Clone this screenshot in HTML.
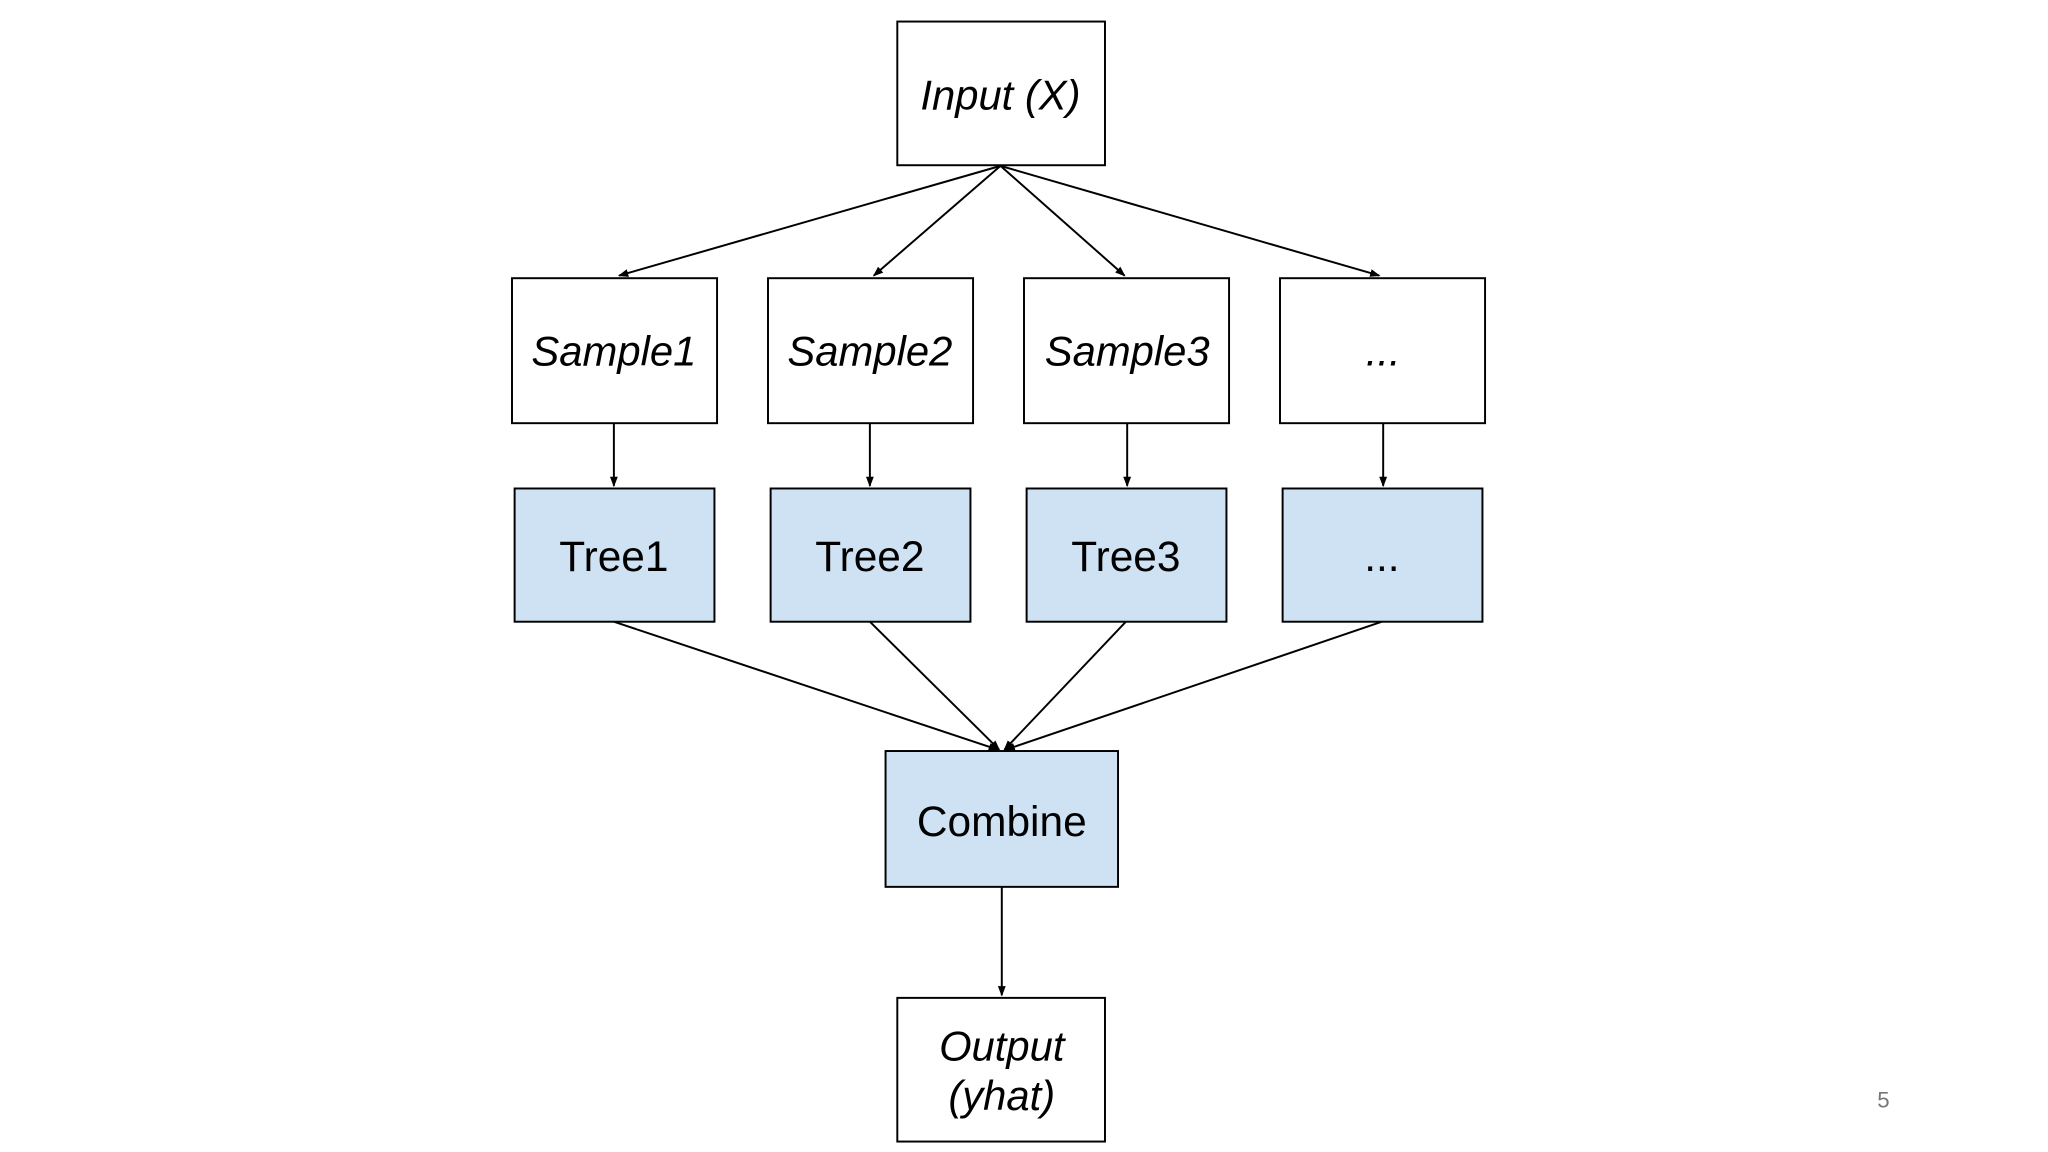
<!DOCTYPE html>
<html><head><meta charset="utf-8"><style>html,body{margin:0;padding:0;background:#fff}svg{display:block}</style></head>
<body>
<svg width="2048" height="1152" viewBox="0 0 1568 882" preserveAspectRatio="none" xmlns="http://www.w3.org/2000/svg" font-family="Liberation Sans, sans-serif">
<defs><marker id="a" markerWidth="8" markerHeight="8" refX="7" refY="4" orient="auto" markerUnits="userSpaceOnUse"><path d="M0,1 L8,4 L0,7 z" fill="#000"/></marker></defs>
<rect width="1568" height="882" fill="#fff"/>
<g stroke="#000" stroke-width="1.5" fill="none" marker-end="url(#a)">
<line x1="766" y1="127" x2="474" y2="211"/>
<line x1="766" y1="127" x2="669" y2="211"/>
<line x1="766" y1="127" x2="861" y2="211"/>
<line x1="766" y1="127" x2="1056" y2="211"/>
<line x1="470" y1="324" x2="470" y2="372"/>
<line x1="666" y1="324" x2="666" y2="372"/>
<line x1="863" y1="324" x2="863" y2="372"/>
<line x1="1059" y1="324" x2="1059" y2="372"/>
<line x1="470" y1="476" x2="764" y2="574"/>
<line x1="666" y1="476" x2="765" y2="574"/>
<line x1="862" y1="476" x2="769" y2="574"/>
<line x1="1058" y1="476" x2="770" y2="574"/>
<line x1="767" y1="679" x2="767" y2="762"/>
</g>
<g stroke="#000" stroke-width="1.5">
<rect x="687" y="16.5" width="159" height="110" fill="#fff"/>
<rect x="392" y="213" width="157" height="111" fill="#fff"/>
<rect x="588" y="213" width="157" height="111" fill="#fff"/>
<rect x="784" y="213" width="157" height="111" fill="#fff"/>
<rect x="980" y="213" width="157" height="111" fill="#fff"/>
<rect x="394" y="374" width="153" height="102" fill="#cfe2f3"/>
<rect x="590" y="374" width="153" height="102" fill="#cfe2f3"/>
<rect x="786" y="374" width="153" height="102" fill="#cfe2f3"/>
<rect x="982" y="374" width="153" height="102" fill="#cfe2f3"/>
<rect x="678" y="575" width="178" height="104" fill="#cfe2f3"/>
<rect x="687" y="764" width="159" height="110" fill="#fff"/>
</g>
<g font-size="32" font-style="italic" text-anchor="middle" fill="#000">
<text x="766" y="84">Input (X)</text>
<text x="470" y="280">Sample1</text>
<text x="666" y="280">Sample2</text>
<text x="863" y="280">Sample3</text>
<text x="1059" y="280">...</text>
<text x="767" y="812">Output</text>
<text x="767" y="850">(yhat)</text>
</g>
<g font-size="32.5" text-anchor="middle" fill="#000">
<text x="470" y="437">Tree1</text>
<text x="666" y="437">Tree2</text>
<text x="862" y="437">Tree3</text>
<text x="1058" y="437">...</text>
<text x="767" y="640">Combine</text>
</g>
<text x="1442" y="848" font-size="17" fill="#777" text-anchor="middle">5</text>
</svg>
</body></html>
